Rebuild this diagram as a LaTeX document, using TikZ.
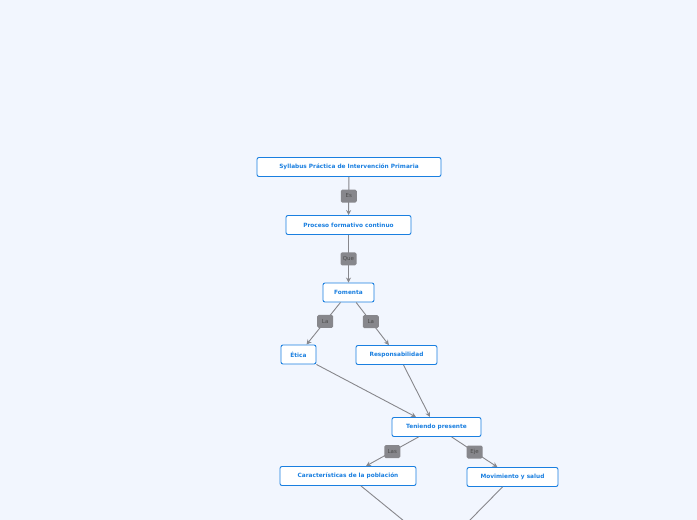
\documentclass[tikz,border=0pt]{standalone}
\usepackage{fontspec}
\setmainfont{DejaVu Sans}
\usetikzlibrary{arrows.meta}
\definecolor{bg}{HTML}{F2F6FE}
\definecolor{nb}{HTML}{1A7FE0}
\definecolor{lg}{HTML}{87878C}
\begin{document}
\begin{tikzpicture}[x=1pt,y=-1pt,
  box/.style={draw=nb,fill=white,rounded corners=2pt,line width=0.9pt,text=nb,font=\bfseries\fontsize{5.8}{7}\selectfont,minimum height=19pt,inner xsep=7pt},
  lab/.style={fill=lg,rounded corners=1.5pt,text=black!70,font=\fontsize{5.5}{6}\selectfont,minimum height=13pt,minimum width=16pt,inner sep=1.5pt},
  con/.style={draw=lg,line width=0.9pt,-{Stealth[length=5pt,width=5pt]}},
  pl/.style={draw=lg,line width=0.9pt}]
\useasboundingbox[fill=bg] (0,0) rectangle (697,520);
\node[box,minimum width=184pt] (s) at (349,167) {Syllabus Práctica de Intervención Primaria};
\node[box,minimum width=125pt] (p) at (348.5,225) {Proceso formativo continuo};
\node[box,minimum width=51pt] (f) at (348.5,292.5) {Fomenta};
\node[box,minimum width=35pt] (e) at (298.5,354.5) {Ética};
\node[box,minimum width=81pt] (r) at (396.5,355) {Responsabilidad};
\node[box,minimum width=89pt] (t) at (436.5,427) {Teniendo presente};
\node[box,minimum width=136pt] (c) at (348,476) {Características de la población};
\node[box,minimum width=91pt] (m) at (512.5,477) {Movimiento y salud};
\coordinate (e1) at (416,417);
\coordinate (r1) at (430,417);
\coordinate (c1) at (404,521);
\coordinate (m1) at (469,521);
\path (r.south) ++(7,0) coordinate (r0);
\path (c.south) ++(13,0) coordinate (c0);
\path (m.south) ++(-10,0) coordinate (m0);
\draw[con] (s) -- node[lab]{Es} (p);
\draw[con] (p) -- node[lab]{Que} (f);
\draw[con] (f) -- node[lab,pos=0.45]{La} (e);
\draw[con] (f) -- node[lab,pos=0.45]{La} (r);
\draw[con] (e.south east) -- (e1);
\draw[con] (r0) -- (r1);
\draw[con] (t) -- node[lab]{Las} (c);
\draw[con] (t) -- node[lab]{Eje} (m);
\draw[pl] (c0) -- (c1);
\draw[pl] (m0) -- (m1);
\end{tikzpicture}
\end{document}
